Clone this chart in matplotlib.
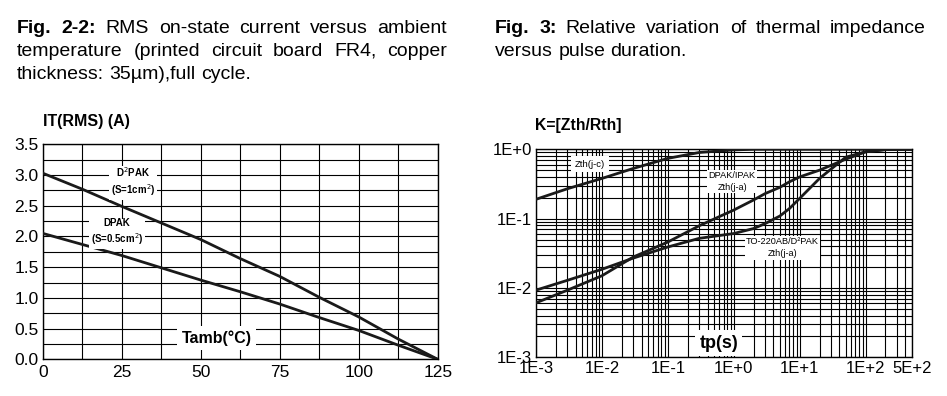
import matplotlib
matplotlib.use('Agg')
import matplotlib.pyplot as plt
from matplotlib.ticker import MultipleLocator, LogLocator, NullFormatter, FixedLocator, FixedFormatter
from matplotlib.transforms import IdentityTransform

plt.rcParams['font.family'] = ['Liberation Sans', 'DejaVu Sans']

# ---- Fig. 2-2 data: IT(RMS) vs Tamb ----
temp = [0, 12.5, 25, 37.5, 50, 62.5, 75, 87.5, 100, 112.5, 125]
it_d2pak = [3.03, 2.77, 2.49, 2.22, 1.95, 1.64, 1.35, 1.01, 0.69, 0.33, 0.0]
it_dpak = [2.05, 1.87, 1.69, 1.49, 1.29, 1.10, 0.90, 0.68, 0.47, 0.23, 0.0]

# ---- Fig. 3 data: K = Zth/Rth vs tp ----
tp = [1e-3, 3e-3, 1e-2, 3e-2, 1e-1, 3e-1, 1, 2, 3, 5, 7, 10, 20, 50, 100, 200, 500]
k_jc = [0.19, 0.27, 0.38, 0.53, 0.74, 0.90, 0.98, 1.0, 1.0, 1.0, 1.0, 1.0, 1.0, 1.0, 1.0, 1.0, 1.0]
k_dpak = [0.0061, 0.0093, 0.015, 0.028, 0.046, 0.079, 0.133, 0.186, 0.23, 0.283, 0.34, 0.40, 0.50, 0.72, 0.92, 0.99, 1.0]
k_to220 = [0.0093, 0.0129, 0.0186, 0.027, 0.039, 0.052, 0.061, 0.072, 0.085, 0.109, 0.14, 0.196, 0.38, 0.77, 0.92, 0.99, 1.0]

x_ticks_log = [1e-3, 1e-2, 1e-1, 1, 10, 100, 500]
x_labels_log = ['1E-3', '1E-2', '1E-1', '1E+0', '1E+1', '1E+2', '5E+2']
y_ticks_log = [1e-3, 1e-2, 1e-1, 1]
y_labels_log = ['1E-3', '1E-2', '1E-1', '1E+0']

W, H = 947, 396
fig = plt.figure(figsize=(W / 100, H / 100), dpi=100)
renderer = fig.canvas.get_renderer()


def justified(words, x0, x1, y, size=14, bold_n=0, justify=True):
    """words placed in pixel coords (y from top), justified between x0 and x1"""
    texts = []
    for i, w in enumerate(words):
        t = fig.text(0, 0, w, fontsize=size, transform=IdentityTransform(),
                     fontweight='bold' if i < bold_n else 'normal', va='baseline')
        texts.append(t)
    widths = [t.get_window_extent(renderer).width for t in texts]
    space = size * 0.278 * 100 / 72  # Arial space width
    gap = (x1 - x0 - sum(widths)) / (len(words) - 1) if justify else space
    x = x0
    for t, w in zip(texts, widths):
        t.set_position((x, H - y))
        x += w + gap


# titles
justified('Fig. 2-2: RMS on-state current versus ambient'.split(), 17, 447, 33, bold_n=2)
justified('temperature (printed circuit board FR4, copper'.split(), 17, 447, 56)
justified('thickness: 35µm),full cycle.'.split(), 17, 447, 79, justify=False)
justified('Fig. 3: Relative variation of thermal impedance'.split(), 495, 926, 33, bold_n=2)
justified('versus pulse duration.'.split(), 495, 926, 56, justify=False)

grid_kw = dict(color='black', linewidth=0.8)
bbox_kw = dict(facecolor='white', edgecolor='none', pad=1.0)

# ---------------- left chart ----------------
ax1 = fig.add_axes([42.7 / W, 1 - 359.3 / H, 395 / W, 215 / H])
ax1.plot(temp, it_d2pak, color='#1a1a1a', linewidth=2.0, zorder=3)
ax1.plot(temp, it_dpak, color='#1a1a1a', linewidth=2.0, zorder=3)
ax1.set_xlim(0, 125)
ax1.set_ylim(0, 3.5)
ax1.xaxis.set_major_locator(MultipleLocator(25))
ax1.xaxis.set_minor_locator(MultipleLocator(12.5))
ax1.yaxis.set_major_locator(MultipleLocator(0.5))
ax1.yaxis.set_minor_locator(MultipleLocator(0.25))
ax1.yaxis.set_major_formatter(matplotlib.ticker.FormatStrFormatter('%.1f'))
ax1.grid(True, which='both', **grid_kw)
ax1.tick_params(which='both', length=0, labelsize=12.5, pad=3)
ax1.tick_params(axis='x', pad=4)
for s in ax1.spines.values():
    s.set_linewidth(1.0)
ax1.text(28.6, 2.89, 'D$^2$PAK\n(S=1cm$^2$)', fontsize=7, fontweight='bold',
         ha='center', va='center', bbox=bbox_kw, zorder=4, linespacing=1.3)
ax1.text(23.5, 2.06, 'DPAK\n(S=0.5cm$^2$)', fontsize=7, fontweight='bold',
         ha='center', va='center', bbox=bbox_kw, zorder=4, linespacing=1.3)
ax1.text(55, 0.35, 'Tamb(°C)', fontsize=11.5, fontweight='bold',
         ha='center', va='center', bbox=dict(facecolor='white', edgecolor='none', pad=3), zorder=4)
fig.text(43 / W, 1 - 126 / H, 'IT(RMS) (A)', fontsize=11.5, fontweight='bold',
         ha='left', va='baseline')

# ---------------- right chart ----------------
ax2 = fig.add_axes([536 / W, 1 - 357.3 / H, 375.7 / W, 208 / H])
ax2.plot(tp, k_jc, color='#1a1a1a', linewidth=2.0, zorder=3)
ax2.plot(tp, k_dpak, color='#1a1a1a', linewidth=2.0, zorder=3)
ax2.plot(tp, k_to220, color='#1a1a1a', linewidth=2.0, zorder=3)
ax2.set_xscale('log')
ax2.set_yscale('log')
ax2.set_xlim(1e-3, 500)
ax2.set_ylim(1e-3, 1)
ax2.xaxis.set_major_locator(FixedLocator(x_ticks_log))
ax2.xaxis.set_major_formatter(FixedFormatter(x_labels_log))
ax2.xaxis.set_minor_locator(LogLocator(base=10, subs=range(2, 10), numticks=20))
ax2.xaxis.set_minor_formatter(NullFormatter())
ax2.yaxis.set_major_locator(FixedLocator(y_ticks_log))
ax2.yaxis.set_major_formatter(FixedFormatter(y_labels_log))
ax2.yaxis.set_minor_locator(LogLocator(base=10, subs=range(2, 10), numticks=20))
ax2.yaxis.set_minor_formatter(NullFormatter())
ax2.grid(True, which='both', **grid_kw)
ax2.tick_params(which='both', length=0, labelsize=12, pad=3)
ax2.tick_params(axis='x', pad=3)
for s in ax2.spines.values():
    s.set_linewidth(1.0)
ax2.text(6.6e-3, 0.61, 'Zth(j-c)', fontsize=6.8, ha='center', va='center',
         bbox=dict(facecolor='white', edgecolor='none', pad=2.5), zorder=4)
ax2.text(0.95, 0.343, 'DPAK/IPAK\nZth(j-a)', fontsize=6.6, ha='center', va='center',
         bbox=bbox_kw, zorder=4, linespacing=1.4)
ax2.text(5.5, 0.038, 'TO-220AB/D²PAK\nZth(j-a)', fontsize=6.6, ha='center', va='center',
         bbox=bbox_kw, zorder=4, linespacing=1.4)
ax2.text(0.59, 0.0016, 'tp(s)', fontsize=13, fontweight='bold', ha='center', va='center',
         bbox=dict(facecolor='white', edgecolor='none', pad=3), zorder=4)
fig.text(535 / W, 1 - 130 / H, 'K=[Zth/Rth]', fontsize=11.3, fontweight='bold',
         ha='left', va='baseline')

fig.savefig('out.png', dpi=100)
